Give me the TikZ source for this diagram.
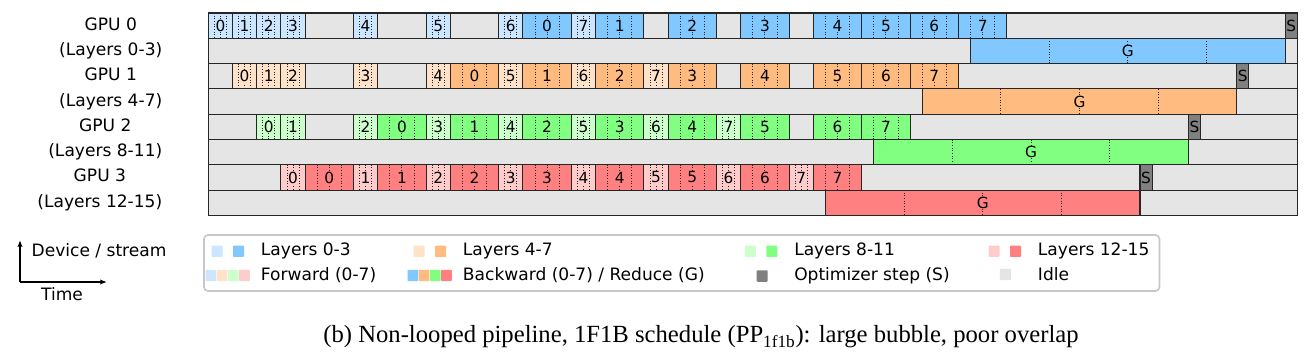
\documentclass[tikz,border=0pt]{standalone}
\usepackage{fontspec}
\setmainfont{DejaVu Sans}
\newfontfamily\capfont{Liberation Serif}
\usetikzlibrary{arrows.meta, positioning}

\definecolor{fwdA}{HTML}{CCE6FF}
\definecolor{bwdA}{HTML}{80C8FF}
\definecolor{fwdB}{HTML}{FFE2CA}
\definecolor{bwdB}{HTML}{FFBB80}
\definecolor{fwdC}{HTML}{CCFFCC}
\definecolor{bwdC}{HTML}{80FF80}
\definecolor{fwdD}{HTML}{FFCCCC}
\definecolor{bwdD}{HTML}{FF8080}
\definecolor{idle}{HTML}{E5E5E5}
\definecolor{optim}{HTML}{808080}

% row, start, end, colour, label
\newcommand{\stagebox}[5]{%
  \fill[fill=#4] (#2,#1) rectangle (#3,#1+1);
  \foreach \q in {0.25,0.5,0.75}
    \draw[layerline] ({#2+(#3-#2)*\q},#1) -- ({#2+(#3-#2)*\q},#1+1);
  \node[num, fill=#4] at ({(#2+#3)/2},#1+0.5) {#5};
  \draw[rowline] (#2,#1) rectangle (#3,#1+1);
}

\begin{document}
\begin{tikzpicture}[x=0.75pt, y=-0.75pt, >={Latex[length=5pt,width=4pt]},
  rowline/.style={draw=black!85, line width=0.8pt},
  layerline/.style={draw=black!85, line width=0.65pt, dash pattern=on 0.65pt off 1.35pt},
  num/.style={font=\fontsize{11.5}{13}\selectfont, inner sep=0.4pt},
  lbl/.style={font=\fontsize{12.8}{19}\selectfont, align=center},
  legtext/.style={font=\fontsize{12.8}{15}\selectfont, anchor=base west, inner sep=0pt},
  swatch/.style={minimum width=8pt, minimum height=8.5pt, inner sep=0pt, rounded corners=0.6pt}]

% Bounding box
\useasboundingbox (0,0) rectangle (1313,360);

% Row labels
\foreach \g/\lay in {0/0-3, 1/4-7, 2/8-11, 3/12-15}
  \node[lbl, anchor=east] (gpu\g) at (167, {38.3+50.6*\g}) {GPU \g\\(Layers \lay)};

% Schedule
\begin{scope}[shift={(208.3,13)}, x=18.15pt, y=-18.975pt]
  % idle rows
  \foreach \r in {0,...,7}
    \draw[rowline, fill=idle] (0,\r) rectangle (45,\r+1);
  % forward, backward, reduce (G) and optimizer step (S) per GPU
  \foreach \r/\fc/\bc/\fwd/\bwd/\g in {
      0/fwdA/bwdA/{0,1,2,3,6,9,12,15}/{13,16,19,22,25,27,29,31}/31.5,
      2/fwdB/bwdB/{1,2,3,6,9,12,15,18}/{10,13,16,19,22,25,27,29}/29.5,
      4/fwdC/bwdC/{2,3,6,9,12,15,18,21}/{7,10,13,16,19,22,25,27}/27.5,
      6/fwdD/bwdD/{3,6,9,12,15,18,21,24}/{4,7,10,13,16,19,22,25}/25.5} {
    \foreach \s [count=\n from 0] in \fwd {\stagebox{\r}{\s}{\s+1}{\fc}{\n}}
    \foreach \s [count=\n from 0] in \bwd {\stagebox{\r}{\s}{\s+2}{\bc}{\n}}
    \stagebox{\r+1}{\g}{\g+13}{\bc}{G}
    \draw[rowline, fill=optim] (\g+13,\r) rectangle (\g+13.5,\r+1);
    \node[num] at (\g+13.25,\r+0.5) {S};
  }
\end{scope}

% Axes
\coordinate (orig) at (20,282);
\coordinate (up) at (20,240);
\coordinate (right) at (107,282);
\draw[->, line width=1.5pt] (orig) -- (up);
\draw[->, line width=1.5pt] (orig) -- (right);
\node[lbl, anchor=west] (dev) at (27,251) {Device / stream};
\node[lbl] (time) at (62,294) {Time};

% Legend
\draw[draw=black!22, line width=1.2pt, rounded corners=3pt, fill=white] (204,235) rectangle (1159.5,291);
\foreach \c/\x/\t in {A/260.7/Layers 0-3, B/462.7/Layers 4-7, C/794/Layers 8-11, D/1037.7/Layers 12-15} {
  \node[legtext] (lay\c) at (\x,255.8) {\t};
  \node[swatch, minimum width=8.25pt, fill=bwd\c, left=12.3pt of lay\c] (dk\c) {};
  \node[swatch, minimum width=8.25pt, fill=fwd\c, left=7.5pt of dk\c] {};
}
\node[legtext] (fwdtext) at (260.7,280.8) {Forward (0-7)};
\node[swatch, fill=fwdD, left=8pt of fwdtext] (f4) {};
\node[swatch, fill=fwdC, left=0pt of f4] (f3) {};
\node[swatch, fill=fwdB, left=0pt of f3] (f2) {};
\node[swatch, fill=fwdA, left=0pt of f2] (f1) {};
\node[legtext] (bwdtext) at (462.7,280.8) {Backward (0-7) / Reduce (G)};
\node[swatch, fill=bwdD, left=8pt of bwdtext] (b4) {};
\node[swatch, fill=bwdC, left=0pt of b4] (b3) {};
\node[swatch, fill=bwdB, left=0pt of b3] (b2) {};
\node[swatch, fill=bwdA, left=0pt of b2] (b1) {};
\node[legtext] (opttext) at (794,280.8) {Optimizer step (S)};
\node[swatch, minimum width=8.25pt, fill=optim, left=19.5pt of opttext] (optkey) {};
\node[legtext] (idletext) at (1037.7,280.8) {Idle};
\node[swatch, minimum width=8.25pt, fill=idle, left=20pt of idletext] (idlekey) {};

% Caption
\node[font=\capfont\fontsize{18.5}{22}\selectfont] (cap) at (701,337)
  {(b) Non-looped pipeline, 1F1B schedule (PP\textsubscript{1f1b}): large bubble, poor overlap};

\end{tikzpicture}
\end{document}
